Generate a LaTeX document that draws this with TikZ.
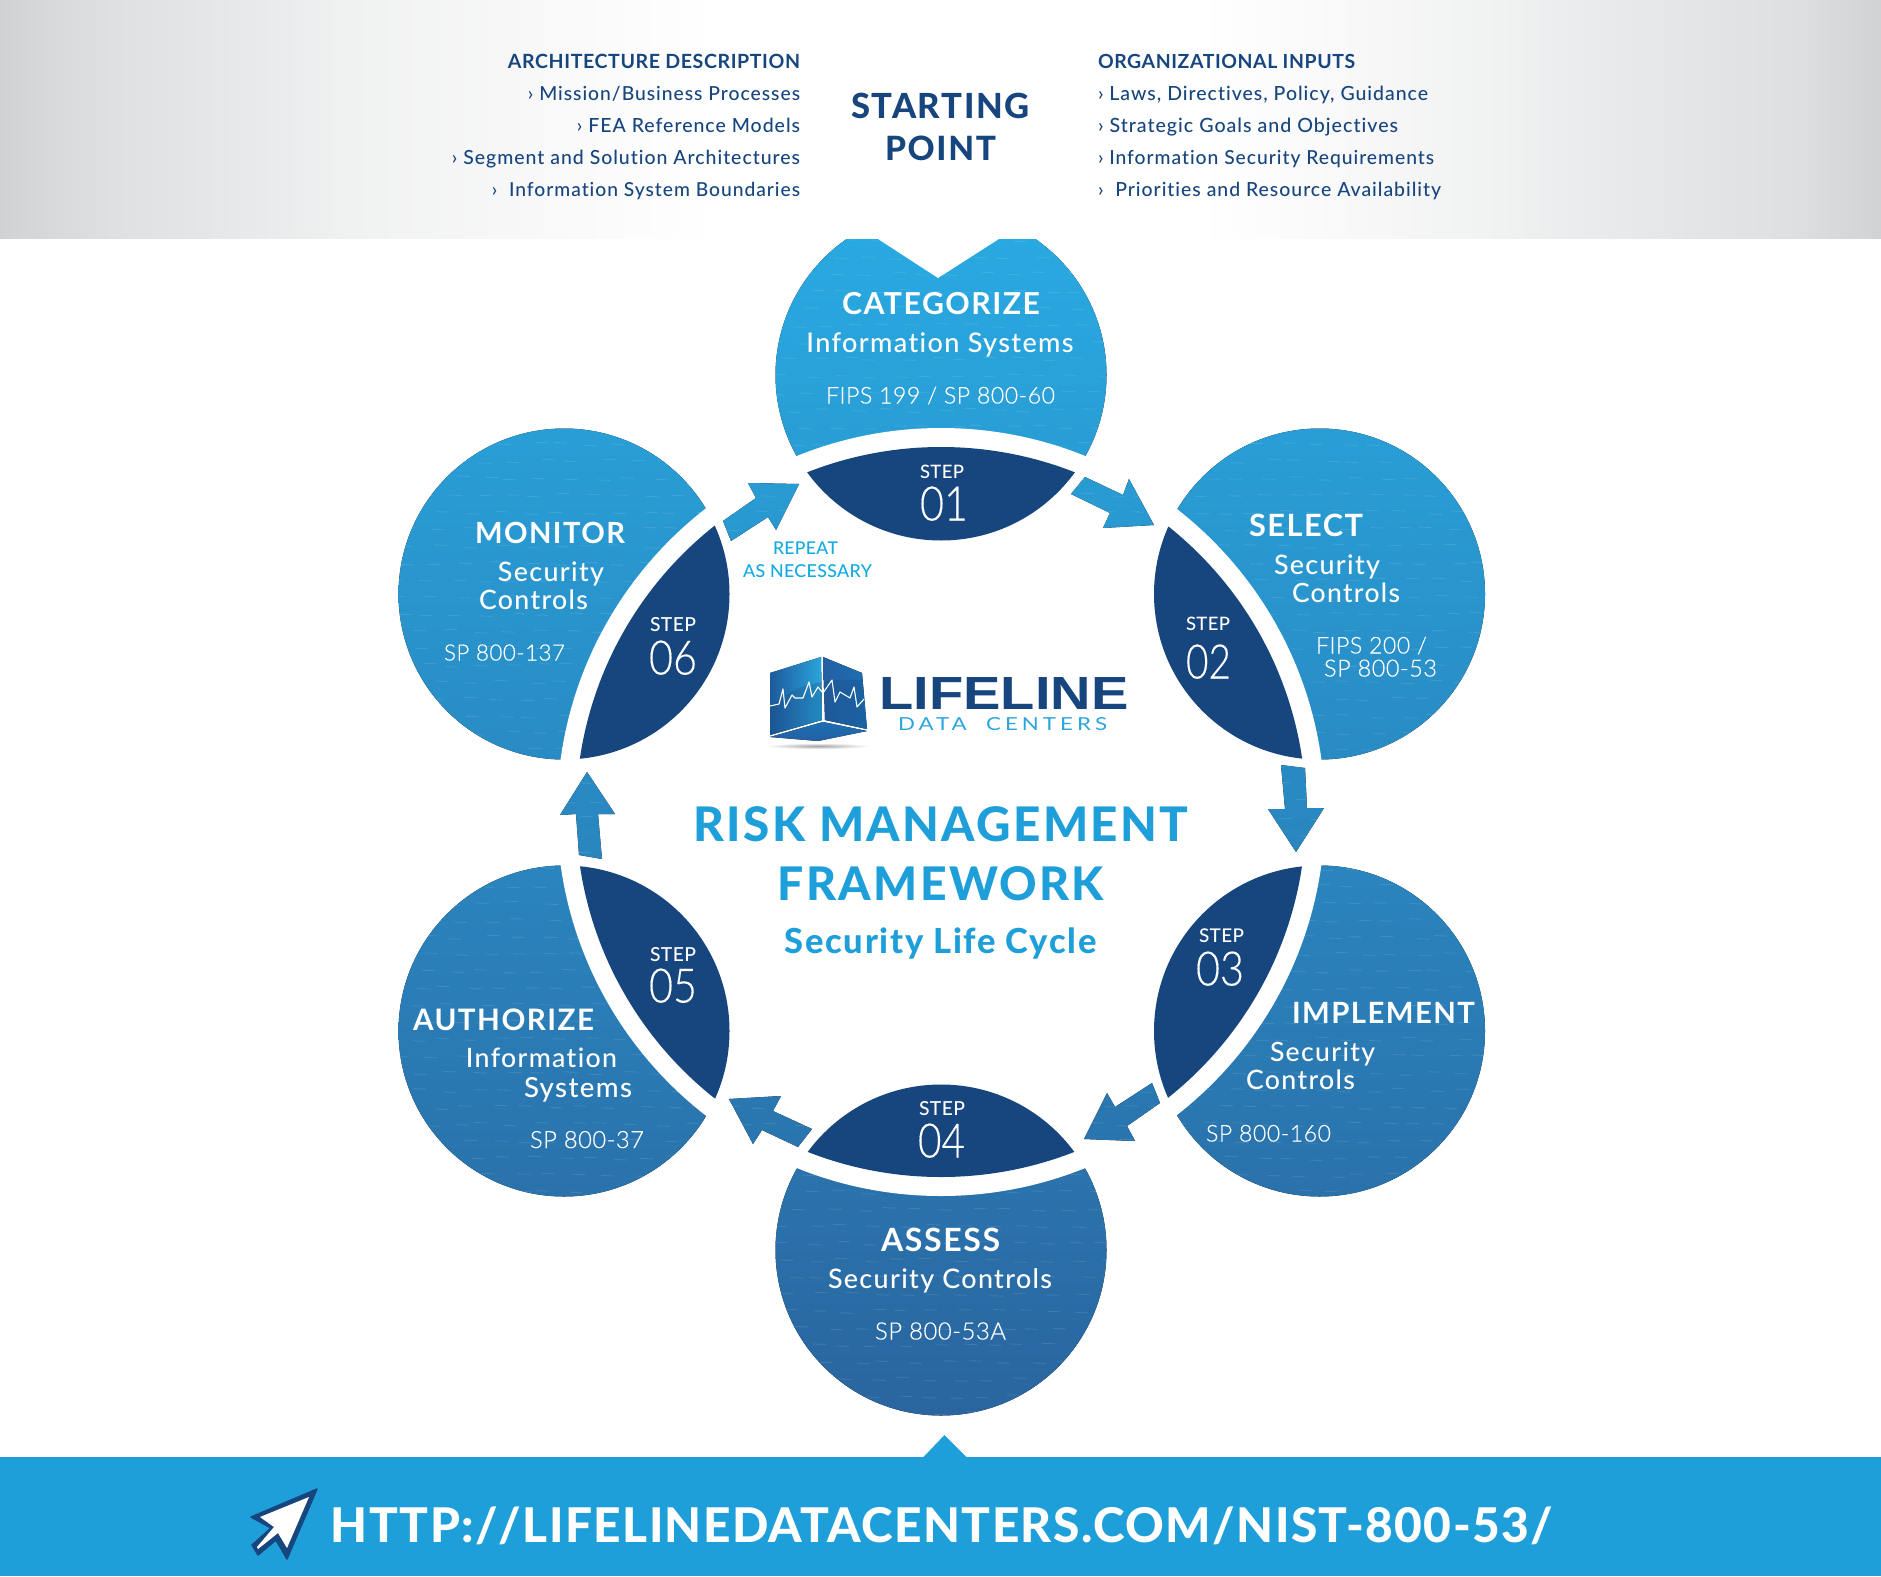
\documentclass[tikz,border=0pt]{standalone}
\usepackage{graphicx}
\usepackage{fontspec}
\setmainfont{Lato}
\newfontfamily\fH[LetterSpace=5]{Lato Bold}
\newfontfamily\fHh[LetterSpace=5]{Lato Heavy}
\newfontfamily\fHb[LetterSpace=3]{Lato Bold}
\newfontfamily\fU[LetterSpace=3]{Lato Heavy}
\newfontfamily\fM[LetterSpace=5,Ligatures=NoCommon]{Lato Medium}
\newfontfamily\fL[LetterSpace=2,FakeBold=0.25]{Lato Light}
\newfontfamily\fR[LetterSpace=5,Ligatures=NoCommon]{Lato Medium}
\newfontfamily\fS[LetterSpace=2]{Lato Medium}
\newfontfamily\fN[FakeBold=0.3]{Lato Light}
\newfontfamily\fLogo{Liberation Sans Bold}
\newfontfamily\fData[LetterSpace=18]{Lato}
\definecolor{navy}{HTML}{17467F}
\definecolor{barblue}{HTML}{1F9FDA}
\definecolor{midblue}{HTML}{1F9FDA}
\definecolor{gradtop}{HTML}{29A9E1}
\definecolor{gradbot}{HTML}{2A659F}
\definecolor{cyanlbl}{HTML}{14ABE3}
\definecolor{logolight}{HTML}{2BA5DD}
\definecolor{BlueDark}{HTML}{1D5A9C}
\definecolor{BlueLite}{HTML}{2AA5DD}
\definecolor{BlueMid}{HTML}{245FA3}
\definecolor{BlueMid2}{HTML}{1C6FB3}
\definecolor{h0}{HTML}{D0D2D4}
\definecolor{h1}{HTML}{DEDFE0}
\definecolor{h2}{HTML}{E8E9EA}
\definecolor{h3}{HTML}{F0F1F1}
\definecolor{h4}{HTML}{F7F7F8}
\pgfdeclarehorizontalshading{hdrshade}{100bp}{
 color(0bp)=(h0); color(25bp)=(h0); color(27.66bp)=(h1); color(31.6bp)=(h2); color(34.3bp)=(h3); color(38.3bp)=(h4); color(44.1bp)=(white);
 color(56.9bp)=(white); color(61.7bp)=(h4); color(64.9bp)=(h3); color(68.1bp)=(h2); color(72.8bp)=(h1); color(75bp)=(h0); color(100bp)=(h0)}
\newcounter{lb}
\newcommand\lbl[5]{\stepcounter{lb}\node[txt,#1] (lb\thelb) at (#2,#3) {\resizebox{#4pt}{!}{#5}};}
\newcommand\lblx[6]{\stepcounter{lb}\node[txt,#1] (lb\thelb) at (#2,#3) {\resizebox{#4pt}{#5pt}{#6}};}
\newcommand\texture{%
 \pgfmathsetseed{4711}%
 \foreach \ty in {240,257,...,1420}{%
  \pgfmathsetmacro\tx{395+rand*14}%
  \foreach \tk in {0,...,37}{%
   \pgfmathsetmacro\ta{\tx+\tk*29+rand*7}%
   \pgfmathsetmacro\tb{\ty+rand*2}%
   \draw[white,opacity=.10,line width=.9pt] (\ta,\tb) -- ++(13,.5);
  }}}
\tikzset{
 x=1pt,y=-1pt,
 txt/.style={inner sep=0pt,outer sep=0pt,anchor=base,text=white,yshift=-1.5pt},
 ar/.style={anchor=base east,text=navy},
 al/.style={anchor=base west,text=navy},
 navytxt/.style={text=navy},
 bluetxt/.style={text=midblue},
 cyantxt/.style={text=cyanlbl},
 lens/.style={fill=navy},
 grad/.style={top color=gradtop,bottom color=gradbot}
}
\begin{document}
\begin{tikzpicture}
\useasboundingbox (0,0) rectangle (1881,1576);
\fill[white] (0,0) rectangle (1881,1576);
\coordinate (ring) at (941,812);
\coordinate (c1) at (941,375);
\coordinate (c2) at (1319.5,594);
\coordinate (c3) at (1319.5,1031);
\coordinate (c4) at (941,1250);
\coordinate (c5) at (564,1031);
\coordinate (c6) at (564,594);
% circles
\begin{scope}
 \clip (c1) circle (165.5pt) (c2) circle (165.5pt) (c3) circle (165.5pt)
       (c4) circle (165.5pt) (c5) circle (165.5pt) (c6) circle (165.5pt);
 \fill[grad] (390,238) rectangle (1490,1416);
 \texture
\end{scope}
\fill[white] (ring) circle (384pt);
\begin{scope}
 \clip (ring) circle (365pt);
 \fill[lens] (c1) circle (165.5pt) (c2) circle (165.5pt) (c3) circle (165.5pt)
       (c4) circle (165.5pt) (c5) circle (165.5pt) (c6) circle (165.5pt);
\end{scope}
% arrows
\begin{scope}
 \clip (1085,477) -- (1123,495) -- (1129,479) -- (1154,525) -- (1103,528) -- (1110,513) -- (1071,494) -- cycle
       (1281,765) -- (1285,809) -- (1268,809) -- (1296,852) -- (1324,808) -- (1307,808) -- (1305,768) -- cycle
       (1152,1083) -- (1160,1103) -- (1127,1126) -- (1135,1141) -- (1084,1139) -- (1107,1093) -- (1115,1107) -- cycle
       (729,1099) -- (781,1096) -- (773,1111) -- (812,1129) -- (798,1147) -- (762,1130) -- (753,1144) -- cycle
       (587,772) -- (615,814) -- (598,814) -- (602,859) -- (579,855) -- (576,814) -- (560,815) -- cycle
       (799,484) -- (748,483) -- (756,498) -- (723,521) -- (731,541) -- (768,517) -- (776,530) -- cycle;
 \fill[grad] (390,238) rectangle (1490,1416);
 \texture
\end{scope}
% header & footer
\shade[shading=hdrshade] (0,0) rectangle (1881,238);
\fill[white] (875,237) -- (938,278) -- (1002,237) -- cycle;
\fill[barblue] (0,1457) rectangle (1881,1576);
\fill[barblue] (923,1457.5) -- (944.5,1435) -- (967,1457.5) -- cycle;
% cursor
\filldraw[navy,line width=1.5pt,line join=round] (317,1489) -- (251,1517) -- (271,1528) -- (252,1545) -- (258,1555) -- (276,1540) -- (287,1559) -- cycle;
\fill[white] (309,1497) -- (260,1517) -- (274,1527) -- (257,1547) -- (258,1549) -- (278,1533) -- (287,1548) -- cycle;
% logo
\shade[shading=radial,inner color=gray!70,outer color=white] (818,746) ellipse (52pt and 3pt);
\fill[left color=BlueDark,right color=BlueLite] (770,673) -- (821,657) -- (822,720) -- (770,735) -- cycle;
\fill[left color=BlueMid,right color=BlueMid2] (823,657) -- (862,673) -- (867,729) -- (825,720) -- cycle;
\fill[top color=BlueMid2,bottom color=BlueMid] (770,737) -- (823,722) -- (867,731) -- (818,741) -- cycle;
\begin{scope}
 \clip (770,673) -- (821,657) -- (822,720) -- (770,735) -- cycle (823,657) -- (862,673) -- (867,729) -- (825,720) -- cycle;
 \fill[navy,opacity=.28] (770,708) .. controls (790,686) and (822,678) .. (864,680) -- (870,735) -- (770,740) -- cycle;
\end{scope}
\draw[white,line width=1.1pt,line join=round] (770,706) -- (779,704) -- (783,689) -- (785,708) -- (792,695) -- (795,698) -- (803,698) -- (809,682) -- (812,697) -- (818,687) -- (823,693) -- (832,680) -- (835,702) -- (840,692) -- (850,698) -- (854,687) -- (857,707) -- (864,699);
\lblx{}{1004}{708}{249}{32}{\color{navy}\fLogo LIFELINE}
\lblx{}{1002.5}{729}{209}{13}{\color{logolight}\fData DATA\ \ CENTERS}
% header text
\lbl{ar}{800}{67.5}{292}{\fHb ARCHITECTURE DESCRIPTION}
\lbl{ar}{800}{99.5}{272}{\fR › Mission/Business Processes}
\lbl{ar}{800}{131.5}{223}{\fR › FEA Reference Models}
\lbl{ar}{800}{163}{348}{\fR › Segment and Solution Architectures}
\lbl{ar}{800}{195}{308}{\fR ›\ \ Information System Boundaries}
\lbl{al}{1098}{67.5}{257}{\fHb ORGANIZATIONAL INPUTS}
\lbl{al}{1098}{99.5}{330}{\fR › Laws, Directives, Policy, Guidance}
\lbl{al}{1098}{131}{300}{\fR › Strategic Goals and Objectives}
\lbl{al}{1098}{163}{336}{\fR › Information Security Requirements}
\lbl{al}{1098}{195}{343}{\fR ›\ \ Priorities and Resource Availability}
\lbl{navytxt}{940.5}{116.5}{179}{\fHh STARTING}
\lbl{navytxt}{940.5}{159}{111}{\fHh POINT}
% circle 1
\lbl{}{941}{313}{198}{\fH CATEGORIZE}
\lbl{}{940}{351}{267}{\fM Information Systems}
\lbl{}{940.5}{402}{229}{\fL FIPS 199 / SP 800-60}
\lbl{}{942}{477}{44}{\fS STEP}
\lblx{}{944}{519}{48}{34}{\fN 01}
% circle 2
\lbl{}{1306}{535}{114}{\fH SELECT}
\lbl{}{1327}{573}{106}{\fM Security}
\lbl{}{1346}{601}{108}{\fM Controls}
\lbl{}{1371.5}{652}{111}{\fL FIPS 200 /}
\lbl{}{1380.5}{675}{113}{\fL SP 800-53}
\lbl{}{1208}{629}{44}{\fS STEP}
\lblx{}{1208.5}{677}{45}{34}{\fN 02}
% circle 3
\lbl{}{1383.5}{1022}{183}{\fH IMPLEMENT}
\lbl{}{1322.5}{1060}{105}{\fM Security}
\lbl{}{1300.5}{1088}{109}{\fM Controls}
\lbl{}{1268.5}{1140}{125}{\fL SP 800-160}
\lbl{}{1221.5}{941}{45}{\fS STEP}
\lblx{}{1220}{984}{48}{34}{\fN 03}
% circle 4
\lbl{}{940.5}{1250}{119}{\fH ASSESS}
\lbl{}{940}{1287}{224}{\fM Security Controls}
\lbl{}{940.5}{1338}{131}{\fL SP 800-53A}
\lbl{}{942}{1113.5}{46}{\fS STEP}
\lblx{}{941.5}{1156}{47}{34}{\fN 04}
% circle 5
\lbl{}{503.5}{1029}{181}{\fH AUTHORIZE}
\lbl{}{541.5}{1066}{151}{\fM Information}
\lbl{}{578}{1096}{108}{\fM Systems}
\lbl{}{587}{1146.5}{114}{\fL SP 800-37}
\lbl{}{673}{960}{46}{\fS STEP}
\lblx{}{673}{1001}{48}{34}{\fN 05}
% circle 6
\lbl{}{550}{541.5}{150}{\fH MONITOR}
\lbl{}{551}{580}{106}{\fM Security}
\lbl{}{533.5}{608}{109}{\fM Controls}
\lbl{}{504.5}{659}{121}{\fL SP 800-137}
\lbl{}{673}{630}{46}{\fS STEP}
\lblx{}{673}{673}{48}{34}{\fN 06}
% centre
\lbl{cyantxt}{805.5}{553}{65}{\fS REPEAT}
\lbl{cyantxt}{807.5}{576}{129}{\fS AS NECESSARY}
\lbl{bluetxt}{941}{840}{495}{\fHh RISK MANAGEMENT}
\lbl{bluetxt}{941}{899}{326}{\fHh FRAMEWORK}
\lbl{bluetxt}{940.5}{952}{312}{\fHh Security Life Cycle}
% footer
\lbl{}{942}{1541}{1222}{\fU HTTP:/\kern.02em/LIFELINEDATACENTERS.COM/NIST-800-53/}
\end{tikzpicture}
\end{document}
